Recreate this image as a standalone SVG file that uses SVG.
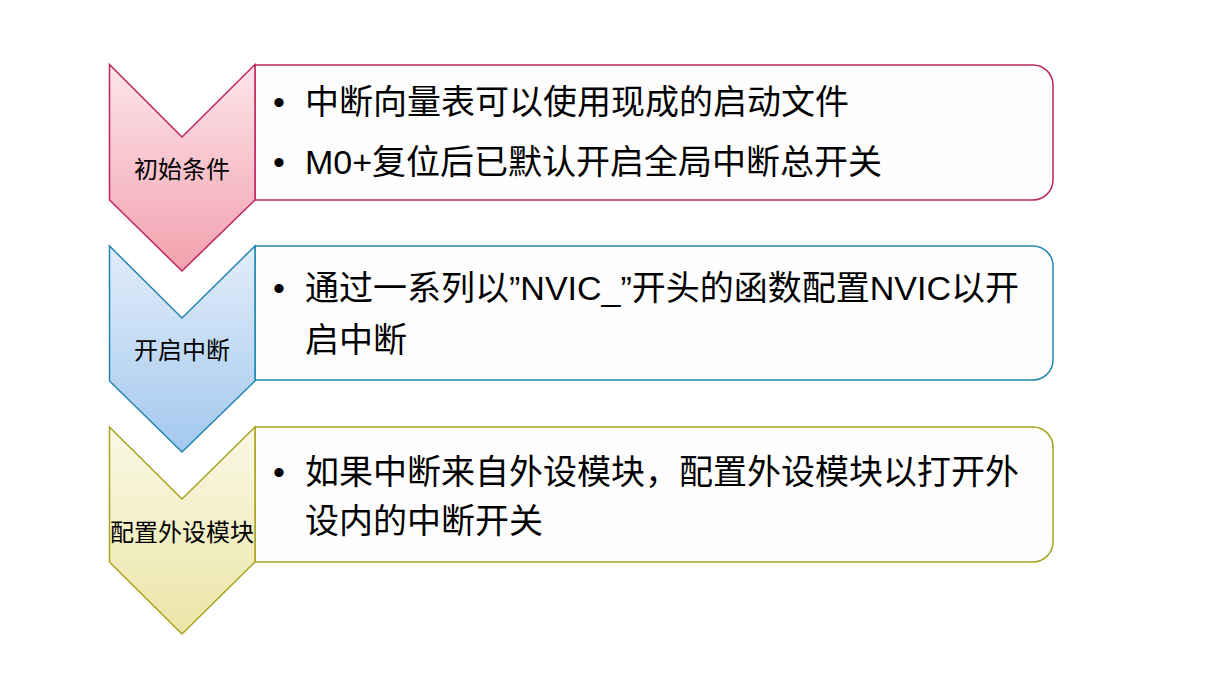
<svg xmlns="http://www.w3.org/2000/svg" width="1221" height="683" viewBox="0 0 1221 683">
<defs>
<linearGradient id="gPink" x1="0" y1="0" x2="0" y2="1"><stop offset="0" stop-color="#fde5ea"/><stop offset="1" stop-color="#f2a1ad"/></linearGradient>
<linearGradient id="gBlue" x1="0" y1="0" x2="0" y2="1"><stop offset="0" stop-color="#e2edf9"/><stop offset="1" stop-color="#a3c8ee"/></linearGradient>
<linearGradient id="gYellow" x1="0" y1="0" x2="0" y2="1"><stop offset="0" stop-color="#faf8e6"/><stop offset="1" stop-color="#ebe5a6"/></linearGradient>
<style>
.lbl{font-family:"Liberation Sans","Noto Sans CJK SC",sans-serif;font-size:24px;fill:#000;text-anchor:middle}
.txt{font-family:"Liberation Sans","Noto Sans CJK SC",sans-serif;font-size:34px;fill:#000}
.box{fill:#fefefe;stroke-width:1.5}
.chev{stroke-width:1.5;stroke-linejoin:miter}
</style>
</defs>
<rect width="1221" height="683" fill="#ffffff"/>
<g id="step1">
<path class="box" stroke="#c0245e" d="M255,65 H1033 A20,20 0 0 1 1053,85 V180 A20,20 0 0 1 1033,200 H255 Z"/>
<path class="chev" fill="url(#gPink)" stroke="#c0245e" d="M109.5,64.5 L182,137 L255,64.5 V200 L182,271 L109.5,200 Z"/>
<text class="lbl" x="182" y="178">初始条件</text>
<text class="txt" x="273" y="114">•</text>
<text class="txt" x="305" y="114">中断向量表可以使用现成的启动文件</text>
<text class="txt" x="273" y="174">•</text>
<text class="txt" x="305" y="174">M0+复位后已默认开启全局中断总开关</text>
</g>
<g id="step2">
<path class="box" stroke="#2185b0" d="M255,246 H1033 A20,20 0 0 1 1053,266 V360 A20,20 0 0 1 1033,380 H255 Z"/>
<path class="chev" fill="url(#gBlue)" stroke="#2185b0" d="M109.5,246 L182,318 L255,246 V381 L182,452 L109.5,381 Z"/>
<text class="lbl" x="182" y="359">开启中断</text>
<text class="txt" x="273" y="300">•</text>
<text class="txt" x="305" y="300">通过一系列以”NVIC_”开头的函数配置NVIC以开</text>
<text class="txt" x="305" y="352">启中断</text>
</g>
<g id="step3">
<path class="box" stroke="#a8a21e" d="M255,427 H1033 A20,20 0 0 1 1053,447 V542 A20,20 0 0 1 1033,562 H255 Z"/>
<path class="chev" fill="url(#gYellow)" stroke="#a8a21e" d="M109.5,427 L182,499 L255,427 V562 L182,634 L109.5,562 Z"/>
<text class="lbl" x="182" y="541">配置外设模块</text>
<text class="txt" x="273" y="484">•</text>
<text class="txt" x="305" y="484">如果中断来自外设模块，配置外设模块以打开外</text>
<text class="txt" x="305" y="533">设内的中断开关</text>
</g>
<g id="connectors"></g>
</svg>
